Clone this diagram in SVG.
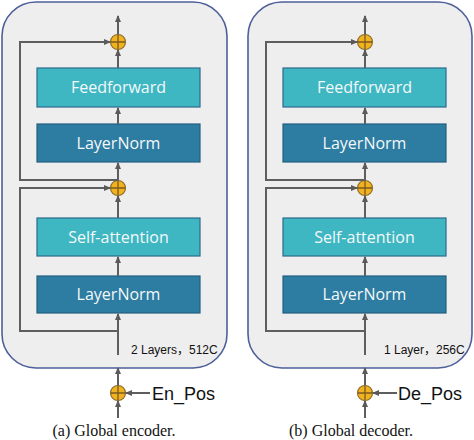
<svg xmlns="http://www.w3.org/2000/svg" width="474" height="440" viewBox="0 0 474 440">
<defs>
<marker id="ah" markerWidth="8" markerHeight="8" refX="6" refY="4" orient="auto" markerUnits="userSpaceOnUse">
<path d="M0,1 L7,4 L0,7 Z" fill="#5a5a5a"/>
</marker>
<g id="plus">
<circle r="7.5" fill="#f1b21f" stroke="#8c6d2a" stroke-width="1.2"/>
<path d="M-7,0 H7 M0,-7 V7" stroke="#7a5a20" stroke-width="1.3"/>
</g>
</defs>
<style>
.panel{fill:#eeeeee;stroke:#4e5f9a;stroke-width:1.6}
.light{fill:#3eb7c2;stroke:#2d6a8c;stroke-width:1.2}
.dark{fill:#2d7ca1;stroke:#245f80;stroke-width:1.2}
.bt{font-family:"Open Sans","Noto Sans",sans-serif;font-size:16px;fill:#f4f8fa;text-anchor:middle}
.ln{fill:none;stroke:#5e5e5e;stroke-width:2;marker-end:url(#ah)}
.sm{font-family:"Liberation Sans","Noto Sans CJK SC",sans-serif;font-size:12px;fill:#111}
.pos{font-family:"Liberation Sans",sans-serif;font-size:18px;fill:#111}
.cap{font-family:"Liberation Serif",serif;font-size:16px;fill:#111;text-anchor:middle}
</style>

<g id="encoder-panel"><rect class="panel" x="2" y="2" width="225" height="366" rx="34"/></g>
<g id="decoder-panel"><rect class="panel" x="248" y="2" width="224" height="366" rx="34"/></g>

<g id="enc-feedforward"><rect class="light" x="37" y="68" width="163" height="39"/><text class="bt" x="118.5" y="93">Feedforward</text></g>
<g id="enc-layernorm1"><rect class="dark" x="37" y="124" width="163" height="38"/><text class="bt" x="118.5" y="148.5">LayerNorm</text></g>
<g id="enc-selfattn"><rect class="light" x="37" y="218" width="163" height="38"/><text class="bt" x="118.5" y="242.5">Self-attention</text></g>
<g id="enc-layernorm2"><rect class="dark" x="37" y="276" width="163" height="37"/><text class="bt" x="118.5" y="300">LayerNorm</text></g>
<g id="enc-add-top"><use href="#plus" x="118" y="42"/></g>
<g id="enc-add-mid"><use href="#plus" x="118" y="188"/></g>
<g id="enc-add-pos"><use href="#plus" x="118" y="393"/></g>
<g id="enc-label"><text class="sm" x="131" y="354">2 Layers，512C</text></g>
<g id="enc-pos"><text class="pos" x="152" y="400">En_Pos</text></g>
<g id="enc-caption"><text class="cap" x="114" y="436">(a) Global encoder.</text></g>

<g id="dec-feedforward"><rect class="light" x="283" y="68" width="163" height="39"/><text class="bt" x="364.5" y="93">Feedforward</text></g>
<g id="dec-layernorm1"><rect class="dark" x="283" y="124" width="163" height="38"/><text class="bt" x="364.5" y="148.5">LayerNorm</text></g>
<g id="dec-selfattn"><rect class="light" x="283" y="218" width="163" height="38"/><text class="bt" x="364.5" y="242.5">Self-attention</text></g>
<g id="dec-layernorm2"><rect class="dark" x="283" y="276" width="163" height="37"/><text class="bt" x="364.5" y="300">LayerNorm</text></g>
<g id="dec-add-top"><use href="#plus" x="365" y="42"/></g>
<g id="dec-add-mid"><use href="#plus" x="365" y="188"/></g>
<g id="dec-add-pos"><use href="#plus" x="365" y="393"/></g>
<g id="dec-label"><text class="sm" x="384" y="354">1 Layer，256C</text></g>
<g id="dec-pos"><text class="pos" x="398" y="400">De_Pos</text></g>
<g id="dec-caption"><text class="cap" x="351" y="436">(b) Global decoder.</text></g>

<g id="connectors">
<path class="ln" d="M118,355 V314"/>
<path class="ln" d="M118,276 V257"/>
<path class="ln" d="M118,218 V196"/>
<path class="ln" d="M118,331 H20 V188 H110"/>
<path class="ln" d="M118,180.5 V163"/>
<path class="ln" d="M118,124 V108"/>
<path class="ln" d="M118,68 V50"/>
<path class="ln" d="M118,180 H20 V42 H110"/>
<path class="ln" d="M118,34.5 V16"/>
<path class="ln" d="M118,418 V401"/>
<path class="ln" d="M118,385.5 V368"/>
<path class="ln" d="M150,393 H126"/>

<path class="ln" d="M365,355 V314"/>
<path class="ln" d="M365,276 V257"/>
<path class="ln" d="M365,218 V196"/>
<path class="ln" d="M365,331 H266 V188 H357"/>
<path class="ln" d="M365,180.5 V163"/>
<path class="ln" d="M365,124 V108"/>
<path class="ln" d="M365,68 V50"/>
<path class="ln" d="M365,180 H266 V42 H357"/>
<path class="ln" d="M365,34.5 V16"/>
<path class="ln" d="M365,418 V401"/>
<path class="ln" d="M365,385.5 V368"/>
<path class="ln" d="M397,393 H373"/>
</g>
</svg>
